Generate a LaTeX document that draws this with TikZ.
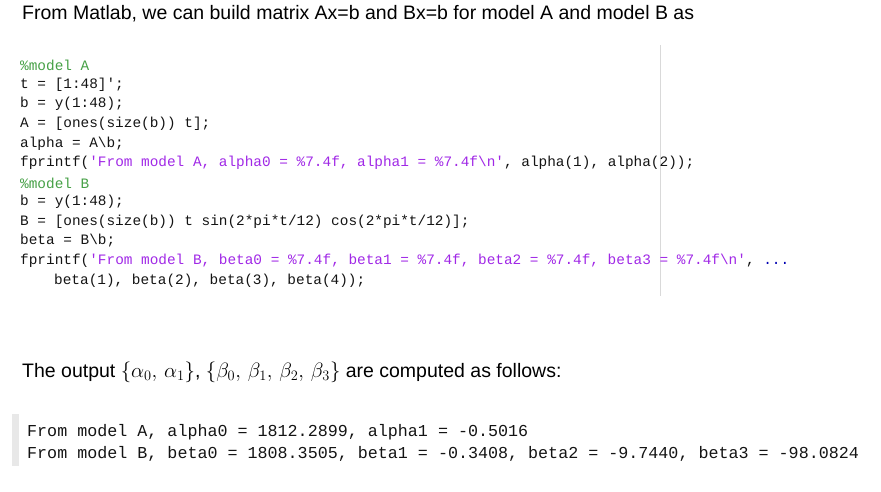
\documentclass[tikz,border=0pt]{standalone}
\usepackage{fontspec}
\setmainfont{Liberation Sans}
\newfontfamily\codefont{Liberation Mono}
\definecolor{cmt}{RGB}{70,160,70}
\definecolor{str}{RGB}{160,40,230}
\definecolor{txt}{RGB}{20,20,20}
\newcommand{\q}{\textquotesingle}
\begin{document}
\begin{tikzpicture}[x=1pt,y=-1pt,
  codeline/.style={anchor=west,inner sep=0pt,font=\codefont\fontsize{14.4}{16}\selectfont,text=txt},
  outline/.style={anchor=west,inner sep=0pt,font=\codefont\fontsize{16.7}{18}\selectfont,text=txt},
  para/.style={anchor=west,inner sep=0pt,font=\fontsize{19.5}{22}\selectfont,text=black}]
\useasboundingbox (0,0) rectangle (881,491);
\node[para] (h) at (22,14) {From Matlab, we can build matrix Ax=b and Bx=b for model A and model B as};
\draw[gray!30,line width=0.9pt] (660,45) coordinate (m1) -- (660,296) coordinate (m2);
\node[codeline,text=cmt] (l1) at (20,65) {\%model A};
\node[codeline] (l2) at (20,85) {t = [1:48]\q;};
\node[codeline] (l3) at (20,104) {b = y(1:48);};
\node[codeline] (l4) at (20,124) {A = [ones(size(b)) t];};
\node[codeline] (l5) at (20,144) {alpha = A\textbackslash b;};
\node[codeline] (l6) at (20,163) {fprintf(\textcolor{str}{\q From model A, alpha0 = \%7.4f, alpha1 = \%7.4f\textbackslash n\q}, alpha(1), alpha(2));};
\node[codeline,text=cmt] (l7) at (20,183) {\%model B};
\node[codeline] (l8) at (20,202) {b = y(1:48);};
\node[codeline] (l9) at (20,222) {B = [ones(size(b)) t sin(2*pi*t/12) cos(2*pi*t/12)];};
\node[codeline] (l10) at (20,241) {beta = B\textbackslash b;};
\node[codeline] (l11) at (20,261) {fprintf(\textcolor{str}{\q From model B, beta0 = \%7.4f, beta1 = \%7.4f, beta2 = \%7.4f, beta3 = \%7.4f\textbackslash n\q}, \textcolor{blue!70!black}{...}};
\node[codeline] (l12) at (54,281) {beta(1), beta(2), beta(3), beta(4));};
\node[para] (o) at (22,372) {The output $\{\alpha_0,\,\alpha_1\}$, $\{\beta_0,\,\beta_1,\,\beta_2,\,\beta_3\}$ are computed as follows:};
\fill[gray!18] (12,414) coordinate (b1) rectangle (19,466) coordinate (b2);
\node[outline] (r1) at (27,432) {From model A, alpha0 = 1812.2899, alpha1 = -0.5016};
\node[outline] (r2) at (27,454) {From model B, beta0 = 1808.3505, beta1 = -0.3408, beta2 = -9.7440, beta3 = -98.0824};
\end{tikzpicture}
\end{document}
